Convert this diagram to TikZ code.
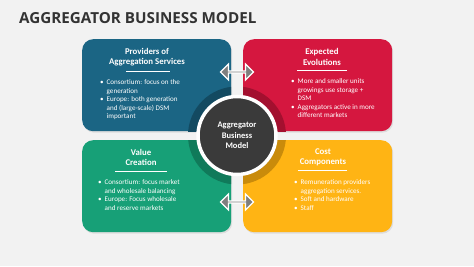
\documentclass[tikz,border=0pt]{standalone}
\usepackage{fontspec}
\setmainfont{Carlito}
\newfontfamily\opensans{Open Sans}
\usetikzlibrary{shapes.arrows,shadows}
\definecolor{bg}{HTML}{F2F2F2}
\definecolor{titlegray}{HTML}{333333}
\definecolor{cteal}{HTML}{1B6584}
\definecolor{cteald}{HTML}{134A61}
\definecolor{cred}{HTML}{D5173F}
\definecolor{credd}{HTML}{A3102F}
\definecolor{cgreen}{HTML}{17A077}
\definecolor{cgreend}{HTML}{107A5A}
\definecolor{cyellow}{HTML}{FFB414}
\definecolor{cyellowd}{HTML}{C98B0B}
\definecolor{cdark}{HTML}{3A3A3A}
\definecolor{agray}{HTML}{7F7F7F}
\newcommand\bl{\makebox[6.5pt][l]{\textbullet}}
\newcommand\ind{\hspace*{6.5pt}}
\tikzset{
  quadbox/.style={rectangle, rounded corners=11pt, minimum width=149pt, minimum height=92pt, inner sep=0pt, anchor=north west,
    drop shadow={opacity=0.18, shadow xshift=1pt, shadow yshift=-1.5pt}},
  head/.style={align=center, text=white, font=\fontsize{8.8}{10.2}\selectfont\bfseries, inner sep=0pt},
  bullets/.style={align=left, text=white, font=\fontsize{7.1}{8.5}\selectfont, inner sep=0pt, anchor=north west},
  rule/.style={draw=white, line width=1pt},
  dblarrow/.style={double arrow, fill=agray, draw=white, line width=1.2pt, minimum height=33pt, minimum width=16pt,
    double arrow head extend=4.5pt, inner sep=0pt},
}
\begin{document}
\begin{tikzpicture}[x=1pt,y=1pt]
\fill[bg] (0,0) rectangle (474,266);
\useasboundingbox (0,0) rectangle (474,266);
\node[anchor=base west, inner sep=0pt, text=titlegray, font=\opensans\bfseries\fontsize{15.2}{18}\selectfont] (title) at (19,243) {AGGREGATOR BUSINESS MODEL};
\coordinate (ctr) at (237,130.5);
% boxes
\node[quadbox, fill=cteal] (tl) at (82,227) {};
\node[quadbox, fill=cred] (tr) at (243,227) {};
\node[quadbox, fill=cgreen] (bl) at (82,126) {};
\node[quadbox, fill=cyellow] (br) at (243,126) {};
% darker rings
\begin{scope}\clip (82,135) rectangle (231,227); \fill[cteald] (ctr) circle (49pt);\end{scope}
\begin{scope}\clip (243,135) rectangle (392,227); \fill[credd] (ctr) circle (49pt);\end{scope}
\begin{scope}\clip (82,34) rectangle (231,126); \fill[cgreend] (ctr) circle (49pt);\end{scope}
\begin{scope}\clip (243,34) rectangle (392,126); \fill[cyellowd] (ctr) circle (49pt);\end{scope}
% centre
\node[circle, fill=cdark, draw=white, line width=3.5pt, minimum size=78pt, inner sep=0pt, align=center, text=white,
  font=\fontsize{8.5}{10.5}\selectfont\bfseries] (centre) at (ctr) {Aggregator\\Business\\Model};
% arrows
\node[dblarrow] (a1) at (237,194) {};
\node[dblarrow] (a2) at (237,64) {};
% top-left
\node[head] (h1) at (147,208.5) {Providers of\\Aggregation Services};
\draw[rule] (126,195) -- (170,195);
\node[bullets] (b1) at (100,187.6) {\strut\bl Consortium: focus on the\\\ind generation\\\bl Europe: both generation\\\ind and (large-scale) DSM\\\ind important};
% top-right
\node[head] (h2) at (322,209) {Expected\\Evolutions};
\draw[rule] (297,196) -- (347,196);
\node[bullets] (b2) at (291,188.6) {\strut\bl More and smaller units\\\ind growings use storage +\\\ind DSM\\\bl Aggregators active in more\\\ind different markets};
% bottom-left
\node[head] (h3) at (141,108.5) {Value\\Creation};
\draw[rule] (115,95) -- (167,95);
\node[bullets] (b3) at (98,87.6) {\strut\bl Consortium: focus market\\\ind and wholesale balancing\\\bl Europe: Focus wholesale\\\ind and reserve markets};
% bottom-right
\node[head] (h4) at (323,108.5) {Cost\\Components};
\draw[rule] (298,96) -- (347,96);
\node[bullets] (b4) at (294,87.6) {\strut\bl Remuneration providers\\\ind aggregation services.\\\bl Soft and hardware\\\bl Staff};
\end{tikzpicture}
\end{document}
